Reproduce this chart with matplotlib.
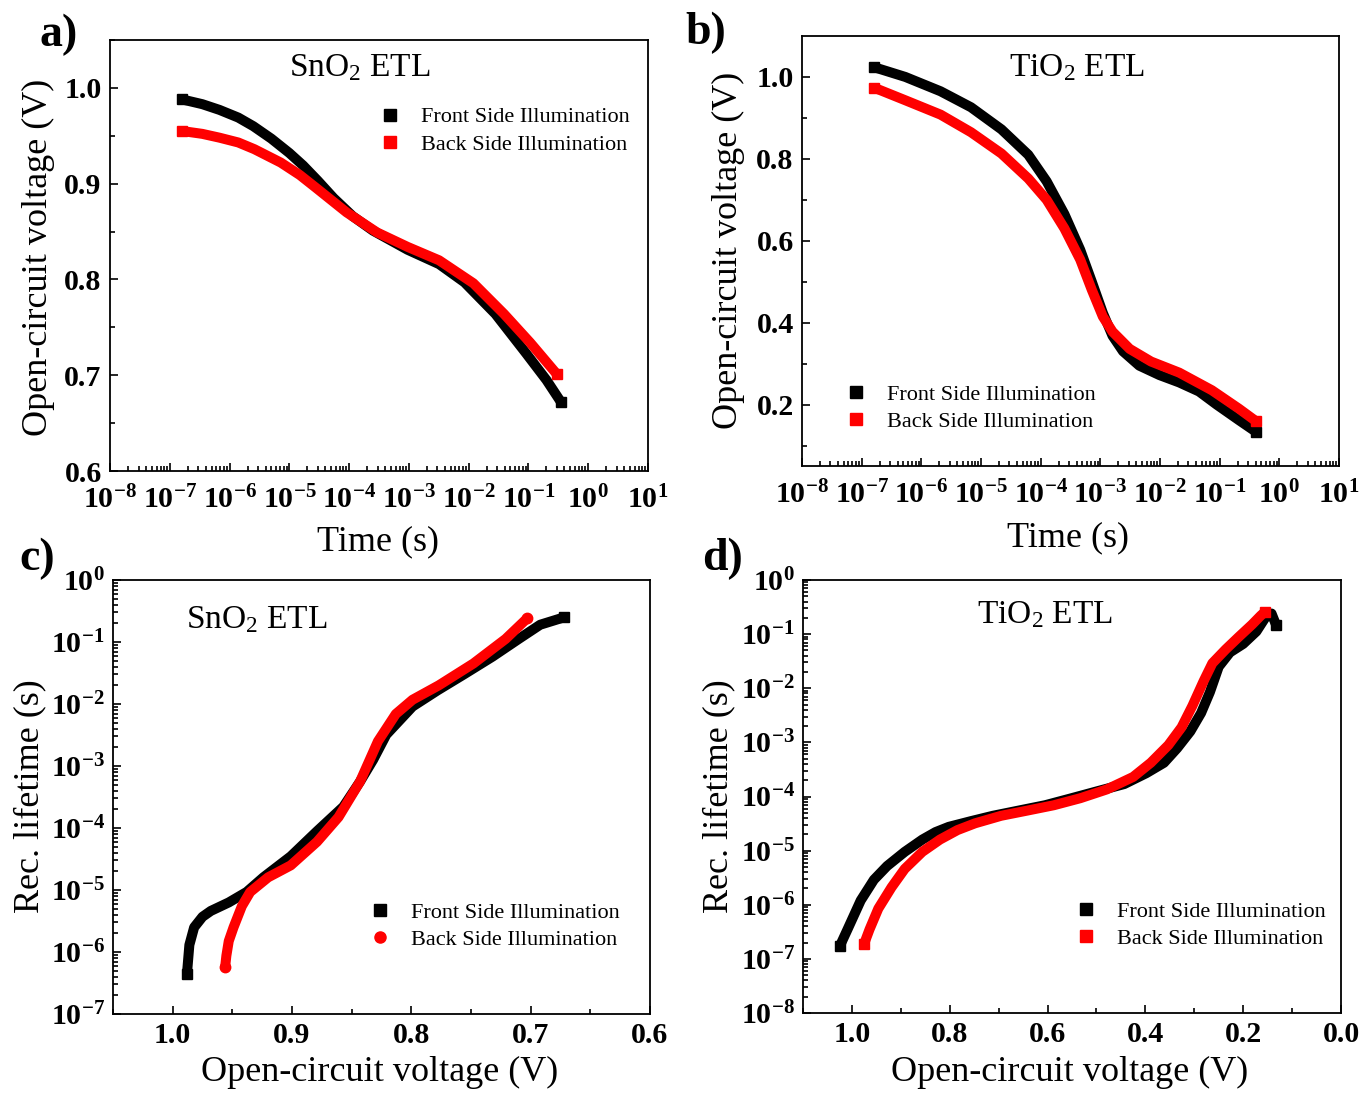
import matplotlib
matplotlib.use('Agg')
import matplotlib.pyplot as plt
import numpy as np
from matplotlib.lines import Line2D
from matplotlib.ticker import LogLocator, MultipleLocator, NullFormatter, FixedLocator

plt.rcParams['font.family'] = ['Liberation Serif', 'DejaVu Serif']
plt.rcParams['mathtext.fontset'] = 'custom'
plt.rcParams['mathtext.rm'] = 'Liberation Serif'
plt.rcParams['mathtext.bf'] = 'Liberation Serif:bold'
plt.rcParams['mathtext.it'] = 'Liberation Serif:italic'

# ---------------- data ----------------
# panel a: SnO2 ETL, Voc decay
a_front_t = [1.6e-7, 3.5e-7, 6.8e-7, 1.4e-6, 2.5e-6, 5.0e-6, 1.0e-5, 1.7e-5, 3.0e-5, 5.5e-5,
             1.15e-4, 2.5e-4, 9.5e-4, 3.2e-3, 8.5e-3, 2.8e-2, 9.1e-2, 0.2, 0.35]
a_front_v = [0.988, 0.983, 0.977, 0.969, 0.960, 0.947, 0.932, 0.919, 0.903, 0.885,
             0.866, 0.851, 0.831, 0.816, 0.797, 0.764, 0.723, 0.695, 0.672]
a_back_t = [1.6e-7, 3.5e-7, 6.8e-7, 1.4e-6, 2.6e-6, 7.2e-6, 1.5e-5, 2.75e-5, 5.0e-5, 9.1e-5,
            2.95e-4, 9.5e-4, 3.2e-3, 1.2e-2, 3.9e-2, 0.107, 0.3]
a_back_v = [0.955, 0.952, 0.948, 0.943, 0.936, 0.922, 0.909, 0.896, 0.883, 0.870,
            0.849, 0.834, 0.820, 0.796, 0.764, 0.734, 0.701]

# panel b: TiO2 ETL, Voc decay
b_front_t = [1.6e-7, 5.4e-7, 2.1e-6, 6.8e-6, 2.2e-5, 6.2e-5, 1.26e-4, 2.5e-4, 4.6e-4, 7.2e-4,
             1.1e-3, 1.6e-3, 2.4e-3, 4.5e-3, 9.8e-3, 2.1e-2, 4.5e-2, 8.9e-2, 0.21, 0.41]
b_front_v = [1.024, 1.000, 0.965, 0.926, 0.872, 0.810, 0.745, 0.665, 0.578, 0.500,
             0.424, 0.368, 0.330, 0.295, 0.272, 0.254, 0.232, 0.200, 0.162, 0.133]
b_back_t = [1.6e-7, 5.4e-7, 2.1e-6, 6.8e-6, 2.2e-5, 6.2e-5, 1.26e-4, 2.5e-4, 4.6e-4, 7.2e-4,
            1.1e-3, 1.6e-3, 3.1e-3, 7.1e-3, 2.1e-2, 7.4e-2, 0.21, 0.41]
b_back_v = [0.974, 0.943, 0.908, 0.865, 0.813, 0.752, 0.700, 0.630, 0.554, 0.480,
            0.415, 0.378, 0.336, 0.305, 0.278, 0.235, 0.190, 0.159]

# panel c: SnO2 ETL, recombination lifetime vs Voc
c_front_v = [0.988, 0.986, 0.982, 0.975, 0.968, 0.953, 0.938, 0.924, 0.901, 0.879, 0.857,
             0.843, 0.832, 0.821, 0.810, 0.799, 0.778, 0.756, 0.732, 0.710, 0.692, 0.672]
c_front_tau = [4.5e-7, 1.3e-6, 2.5e-6, 3.7e-6, 4.6e-6, 6.3e-6, 9.3e-6, 1.6e-5, 3.5e-5, 8.9e-5, 2.2e-4,
               5.6e-4, 1.26e-3, 3.2e-3, 5.4e-3, 9.1e-3, 1.66e-2, 3.0e-2, 5.8e-2, 0.112, 0.19, 0.25]
c_back_v = [0.956, 0.955, 0.953, 0.949, 0.942, 0.935, 0.920, 0.901, 0.879, 0.861, 0.843,
            0.828, 0.813, 0.799, 0.777, 0.748, 0.721, 0.703]
c_back_tau = [5.8e-7, 8.7e-7, 1.5e-6, 2.5e-6, 5.5e-6, 9.3e-6, 1.6e-5, 2.5e-5, 6.0e-5, 1.5e-4, 5.6e-4,
              2.5e-3, 6.9e-3, 1.17e-2, 2.0e-2, 4.5e-2, 0.112, 0.24]

# panel d: TiO2 ETL, recombination lifetime vs Voc
d_front_v = [1.025, 1.009, 0.982, 0.955, 0.928, 0.892, 0.856, 0.829, 0.802, 0.757, 0.712, 0.659,
             0.605, 0.551, 0.497, 0.443, 0.398, 0.362, 0.335, 0.308, 0.286, 0.268, 0.250, 0.227,
             0.200, 0.173, 0.155, 0.142, 0.133]
d_front_tau = [1.7e-7, 3.5e-7, 1.2e-6, 2.9e-6, 5.2e-6, 9.5e-6, 1.6e-5, 2.2e-5, 2.75e-5, 3.5e-5,
               4.4e-5, 5.5e-5, 6.9e-5, 9.3e-5, 1.26e-4, 1.7e-4, 2.7e-4, 4.2e-4, 7.8e-4, 1.6e-3,
               3.5e-3, 8.5e-3, 2.5e-2, 4.6e-2, 6.6e-2, 0.112, 0.2, 0.24, 0.15]
d_back_v = [0.975, 0.964, 0.946, 0.919, 0.892, 0.856, 0.820, 0.784, 0.748, 0.695, 0.641, 0.587,
            0.533, 0.479, 0.425, 0.389, 0.353, 0.326, 0.304, 0.281, 0.263, 0.236, 0.209, 0.182,
            0.164, 0.155]
d_back_tau = [1.9e-7, 3.5e-7, 8.5e-7, 2.1e-6, 4.6e-6, 9.5e-6, 1.6e-5, 2.4e-5, 3.2e-5, 4.4e-5,
              5.5e-5, 6.9e-5, 9.3e-5, 1.35e-4, 2.3e-4, 4.2e-4, 8.9e-4, 1.9e-3, 4.7e-3, 1.35e-2,
              2.9e-2, 5.2e-2, 8.9e-2, 0.15, 0.22, 0.26]

time_exponents = [-8, -7, -6, -5, -4, -3, -2, -1, 0, 1]
lifetime_exp_c = [-7, -6, -5, -4, -3, -2, -1, 0]
lifetime_exp_d = [-8, -7, -6, -5, -4, -3, -2, -1, 0]
legend_labels = ['Front Side Illumination', 'Back Side Illumination']

# ---------------- figure ----------------
W, H = 1372, 1103
fig = plt.figure(figsize=(W / 100, H / 100), dpi=100)
fig.patch.set_facecolor('white')

def px_axes(l, t, r, b):
    return fig.add_axes([l / W, 1 - b / H, (r - l) / W, (b - t) / H])

ax_a = px_axes(110, 40, 648, 471)
ax_b = px_axes(802, 36, 1339, 466)
ax_c = px_axes(113, 580, 650, 1014)
ax_d = px_axes(803, 580, 1341, 1013)

TICK_FS = 21.5
LAB_FS = 26
LEG_FS = 16
TITLE_FS = 24
BLACK = '#000000'
RED = '#ff0000'

def style(ax):
    for s in ax.spines.values():
        s.set_linewidth(1.3)
    ax.tick_params(which='both', direction='in', top=False, right=False, width=1.2,
                   labelsize=TICK_FS, pad=6)
    ax.tick_params(which='major', length=6)
    ax.tick_params(which='minor', length=3.5)

def series(ax, x, y, color, marker):
    ax.plot(x, y, color=color, lw=7.2, solid_capstyle='butt', solid_joinstyle='round',
            marker=marker, markevery=[0, len(x) - 1], ms=7.5, mec=color, mfc=color,
            zorder=3)

def bold_ticks(ax):
    for lab in ax.get_xticklabels() + ax.get_yticklabels():
        lab.set_fontweight('bold')

def legend(ax, x, y, markers):
    handles = [Line2D([], [], ls='none', marker=markers[0], color=BLACK, ms=8),
               Line2D([], [], ls='none', marker=markers[1], color=RED, ms=8)]
    ax.legend(handles, legend_labels, loc='upper left', bbox_to_anchor=(x, y),
              frameon=False, fontsize=LEG_FS, handlelength=1.0, handletextpad=0.9,
              labelspacing=0.3, borderaxespad=0.0, borderpad=0.0)

def time_axis(ax):
    ax.set_xscale('log')
    ax.set_xlim(1e-8, 1e1)
    ax.xaxis.set_major_locator(FixedLocator([10.0 ** e for e in time_exponents]))
    ax.set_xticklabels([r'$\mathbf{10^{%d}}$' % e for e in time_exponents])
    ax.xaxis.set_minor_locator(LogLocator(base=10, subs=np.arange(2, 10), numticks=100))
    ax.xaxis.set_minor_formatter(NullFormatter())
    ax.tick_params(axis='x', which='both', pad=11)

def life_axis(ax, exps):
    ax.set_yscale('log')
    ax.set_ylim(10.0 ** exps[0], 10.0 ** exps[-1])
    ax.yaxis.set_major_locator(FixedLocator([10.0 ** e for e in exps]))
    ax.set_yticklabels([r'$\mathbf{10^{%d}}$' % e for e in exps])
    ax.yaxis.set_minor_locator(LogLocator(base=10, subs=np.arange(2, 10), numticks=100))
    ax.yaxis.set_minor_formatter(NullFormatter())

# ---- panel a ----
ax = ax_a
style(ax)
series(ax, a_front_t, a_front_v, BLACK, 's')
series(ax, a_back_t, a_back_v, RED, 's')
time_axis(ax)
ax.set_ylim(0.6, 1.05)
ax.yaxis.set_major_locator(FixedLocator([0.6, 0.7, 0.8, 0.9, 1.0]))
ax.set_yticklabels(['0.6', '0.7', '0.8', '0.9', '1.0'])
ax.yaxis.set_minor_locator(MultipleLocator(0.05))
bold_ticks(ax)
legend(ax, 0.50, 0.845, ['s', 's'])
ax.text(0.465, 0.935, r'SnO$_2$ ETL', transform=ax.transAxes, ha='center', va='center',
        fontsize=TITLE_FS)

# ---- panel b ----
ax = ax_b
style(ax)
series(ax, b_front_t, b_front_v, BLACK, 's')
series(ax, b_back_t, b_back_v, RED, 's')
time_axis(ax)
ax.set_ylim(0.05, 1.10)
ax.yaxis.set_major_locator(FixedLocator([0.2, 0.4, 0.6, 0.8, 1.0]))
ax.set_yticklabels(['0.2', '0.4', '0.6', '0.8', '1.0'])
ax.yaxis.set_minor_locator(FixedLocator([0.1, 0.3, 0.5, 0.7, 0.9]))
bold_ticks(ax)
legend(ax, 0.08, 0.19, ['s', 's'])
ax.text(0.512, 0.925, r'TiO$_2$ ETL', transform=ax.transAxes, ha='center', va='center',
        fontsize=TITLE_FS)

# ---- panel c ----
ax = ax_c
style(ax)
series(ax, c_front_v, c_front_tau, BLACK, 's')
series(ax, c_back_v, c_back_tau, RED, 'o')
life_axis(ax, lifetime_exp_c)
ax.set_xlim(1.05, 0.6)
ax.xaxis.set_major_locator(FixedLocator([1.0, 0.9, 0.8, 0.7, 0.6]))
ax.set_xticklabels(['1.0', '0.9', '0.8', '0.7', '0.6'])
ax.xaxis.set_minor_locator(MultipleLocator(0.05))
bold_ticks(ax)
legend(ax, 0.477, 0.258, ['s', 'o'])
ax.text(0.268, 0.908, r'SnO$_2$ ETL', transform=ax.transAxes, ha='center', va='center',
        fontsize=TITLE_FS)

# ---- panel d ----
ax = ax_d
style(ax)
series(ax, d_front_v, d_front_tau, BLACK, 's')
series(ax, d_back_v, d_back_tau, RED, 's')
life_axis(ax, lifetime_exp_d)
ax.set_xlim(1.1, 0.0)
ax.xaxis.set_major_locator(FixedLocator([1.0, 0.8, 0.6, 0.4, 0.2, 0.0]))
ax.set_xticklabels(['1.0', '0.8', '0.6', '0.4', '0.2', '0.0'])
ax.xaxis.set_minor_locator(MultipleLocator(0.1))
bold_ticks(ax)
legend(ax, 0.505, 0.258, ['s', 's'])
ax.text(0.45, 0.919, r'TiO$_2$ ETL', transform=ax.transAxes, ha='center', va='center',
        fontsize=TITLE_FS)

# ---- axis labels and panel letters (pixel placed) ----
def ftext(x, y, s, **kw):
    fig.text(x / W, 1 - y / H, s, ha='center', va='center', **kw)

ftext(378, 542, 'Time (s)', fontsize=LAB_FS)
ftext(1068, 538, 'Time (s)', fontsize=LAB_FS)
ftext(380, 1072, 'Open-circuit voltage (V)', fontsize=LAB_FS)
ftext(1070, 1072, 'Open-circuit voltage (V)', fontsize=LAB_FS)
ftext(38, 257, 'Open-circuit voltage (V)', fontsize=LAB_FS, rotation=90)
ftext(728, 250, 'Open-circuit voltage (V)', fontsize=LAB_FS, rotation=90)
ftext(30, 796, 'Rec. lifetime (s)', fontsize=LAB_FS, rotation=90)
ftext(719, 796, 'Rec. lifetime (s)', fontsize=LAB_FS, rotation=90)

ftext(59, 35, 'a)', fontsize=33, fontweight='bold')
ftext(706, 33, 'b)', fontsize=33, fontweight='bold')
ftext(37, 559, 'c)', fontsize=33, fontweight='bold')
ftext(723, 559, 'd)', fontsize=33, fontweight='bold')

fig.savefig('out.png', dpi=100, facecolor='white')
